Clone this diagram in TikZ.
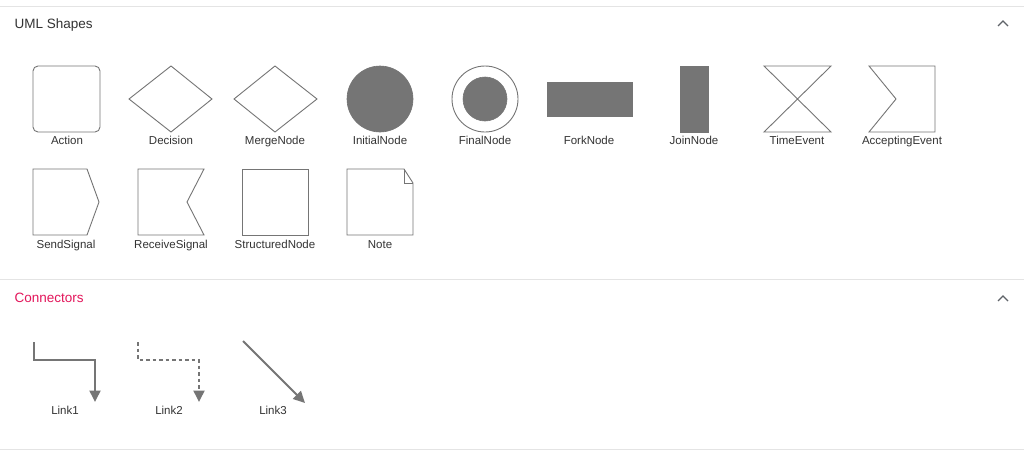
\documentclass[tikz,border=0pt]{standalone}
\usepackage{fontspec}
\setmainfont{Liberation Sans}
\usetikzlibrary{arrows.meta}
\definecolor{shp}{HTML}{757575}
\definecolor{txt}{HTML}{333333}
\definecolor{sep}{HTML}{E4E4E4}
\definecolor{pinkhdr}{HTML}{E3165B}
\definecolor{chev}{HTML}{5F6368}
\begin{document}
\begin{tikzpicture}[x=1pt,y=-1pt,
  outline/.style={draw=shp,line width=0.9pt,line join=miter},
  solidfill/.style={fill=shp,draw=shp,line width=0.6pt},
  lbl/.style={font=\fontsize{11.5}{13}\selectfont,text=txt,inner sep=0pt,anchor=base},
  hdr/.style={font=\fontsize{13.5}{16}\selectfont,anchor=base west,inner sep=0pt},
  sepline/.style={draw=sep,line width=1pt},
  chevron/.style={draw=chev,line width=1.3pt},
  link/.style={draw=shp,line width=1.9pt,-{Triangle[length=11.5pt,width=11pt]}},
]
\useasboundingbox (0,0) rectangle (1024,455);
\fill[white] (0,0) rectangle (1024,455);
% separators
\draw[sepline] (0,6) -- (1024,6);
\draw[sepline] (0,279) -- (1024,279);
\draw[sepline] (0,449) -- (1024,449);
% headers
\node[hdr,text=txt] (h1) at (14.5,28.3) {UML Shapes};
\node[hdr,text=pinkhdr] (h2) at (14.5,302) {Connectors};
\draw[chevron] (998,26) -- (1003,21) -- (1008,26);
\draw[chevron] (998,301) -- (1003,296) -- (1008,301);

% Row 1
\draw[outline,rounded corners=5pt] (33,66) rectangle (100,132);
\node[lbl] (l1) at (67,144.5) {Action};
\draw[outline] (129,99) -- (171,66) -- (212,99) -- (171,132) -- cycle;
\node[lbl] (l2) at (171,144.5) {Decision};
\draw[outline] (234,99) -- (275,66) -- (317,99) -- (275,132) -- cycle;
\node[lbl] (l3) at (275,144.5) {MergeNode};
\draw[solidfill] (380,99) circle (33);
\node[lbl] (l4) at (380,144.5) {InitialNode};
\draw[outline] (485,99) circle (33);
\draw[solidfill] (485,99) circle (22);
\node[lbl] (l5) at (485,144.5) {FinalNode};
\draw[solidfill] (547,82) rectangle (632,116);
\node[lbl] (l6) at (589,144.5) {ForkNode};
\draw[solidfill] (680,66) rectangle (708,132);
\node[lbl] (l7) at (694,144.5) {JoinNode};
\draw[outline] (764,66) -- (831,66) -- (764,132) -- (831,132) -- cycle;
\node[lbl] (l8) at (797,144.5) {TimeEvent};
\draw[outline] (869,66) -- (935,66) -- (935,132) -- (869,132) -- (896,99) -- cycle;
\node[lbl] (l9) at (902,144.5) {AcceptingEvent};

% Row 2
\draw[outline] (33,169) -- (87,169) -- (99,202) -- (87,235) -- (33,235) -- cycle;
\node[lbl] (m1) at (66,248) {SendSignal};
\draw[outline] (138,169) -- (204,169) -- (187,202) -- (204,235) -- (138,235) -- cycle;
\node[lbl] (m2) at (171,248) {ReceiveSignal};
\draw[outline] (242,169) rectangle (308,235);
\node[lbl] (m3) at (275,248) {StructuredNode};
\draw[outline] (347,169) -- (404,169) -- (413,183) -- (413,235) -- (347,235) -- cycle;
\draw[outline] (404,169) -- (404,183) -- (413,183);
\node[lbl] (m4) at (380,248) {Note};

% Connectors
\coordinate (a1) at (34,342);
\coordinate (b1) at (95,402);
\draw[link] (a1) |- (95,360) -- (b1);
\node[lbl] (k1) at (65,414) {Link1};
\coordinate (a2) at (138,342);
\coordinate (b2) at (199,402);
\draw[link,dash pattern=on 3.5pt off 3pt] (a2) |- (199,360) -- (b2);
\node[lbl] (k2) at (169,414) {Link2};
\coordinate (a3) at (243,341);
\coordinate (b3) at (305,403);
\draw[link] (a3) -- (b3);
\node[lbl] (k3) at (273,414) {Link3};
\end{tikzpicture}
\end{document}
